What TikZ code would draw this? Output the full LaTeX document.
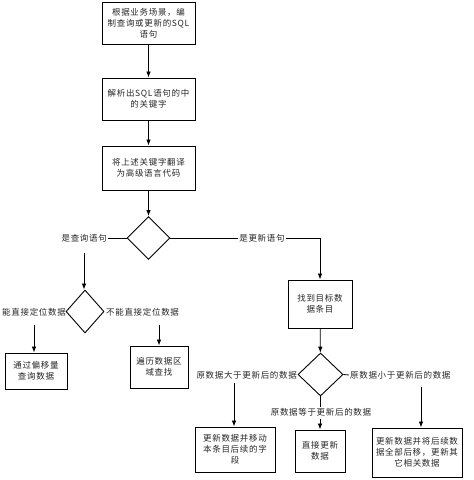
\documentclass[tikz,border=0pt]{standalone}
\usepackage{fontspec}
\newfontfamily\cjk[LetterSpace=8]{Noto Sans CJK SC}
\usetikzlibrary{shapes.geometric,arrows.meta}
\begin{document}
\begin{tikzpicture}[x=1pt,y=-1pt,
  every node/.style={font=\cjk\fontsize{8.5}{11}\selectfont, text=black!85},
  box/.style={draw=black, line width=0.9pt, rectangle, inner sep=1pt, align=center},
  dia/.style={draw=black, line width=0.9pt, diamond, inner sep=0pt},
  lab/.style={inner sep=1pt},
  conn/.style={line width=0.8pt},
  arr/.style={conn, -{Latex[length=6pt,width=4.5pt]}}]
\useasboundingbox (0,0) rectangle (474,480);
% boxes
\node[box, minimum width=93, minimum height=42] (b1) at (148.5,23) {根据业务场景，编\\制查询或更新的SQL\\语句};
\node[box, minimum width=93, minimum height=42] (b2) at (148.5,99) {解析出SQL语句的中\\的关键字};
\node[box, minimum width=93, minimum height=44] (b3) at (148.5,168) {将上述关键字翻译\\为高级语言代码};
\node[dia, minimum width=43, minimum height=43] (d1) at (148.5,238) {};
\node[box, minimum width=64, minimum height=48] (b4) at (320,304) {找到目标数\\据条目};
\node[dia, minimum width=38, minimum height=43] (d2) at (85,311.5) {};
\node[dia, minimum width=45, minimum height=43] (d3) at (320.5,374.5) {};
\node[box, minimum width=62, minimum height=36] (b5) at (36,371) {通过偏移量\\查询数据};
\node[box, minimum width=58, minimum height=42] (b6) at (159,367) {遍历数据区\\域查找};
\node[box, minimum width=80, minimum height=45] (b7) at (235,449.5) {更新数据并移动\\本条目后续的字\\段};
\node[box, minimum width=50, minimum height=42] (b8) at (320,451) {直接更新\\数据};
\node[box, minimum width=90, minimum height=49] (b9) at (417,452.5) {更新数据并将后续数\\据全部后移，更新其\\它相关数据};
% labels
\node[lab, anchor=east] (q1) at (108,238) {是查询语句};
\node[lab, anchor=east] (q2) at (67,312) {能直接定位数据};
\node[lab, anchor=west] (q3) at (105,312) {不能直接定位数据};
\node[lab, anchor=east] (g1) at (298,375) {原数据大于更新后的数据};
\node[lab, anchor=west] (l1) at (349,375) {原数据小于更新后的数据};
\node[lab] (e1) at (321,412) {原数据等于更新后的数据};
% free ends
\coordinate (q1s) at (84,253);
\coordinate (q2s) at (34,325);
\coordinate (q3s) at (159,325);
\coordinate (g1s) at (234,383);
\coordinate (l1s) at (421,387);
\coordinate (e1s) at (320,419);
% connectors
\draw[arr] (b1) -- (b2);
\draw[arr] (b2) -- (b3);
\draw[arr] (b3) -- (d1);
\draw[conn] (d1.west) -- (q1.east);
\draw[arr] (q1s) -- (q1s |- d2.north);
\draw[arr] (d1.east) -| (b4.north);
\draw[arr] (b4) -- (d3);
\draw[arr] (q2s) -- (q2s |- b5.north);
\draw[arr] (q3s) -- (q3s |- b6.north);
\draw[arr] (g1s) -- (g1s |- b7.north);
\draw[conn] (d3.east) -- (l1.west);
\draw[arr] (l1s) -- (l1s |- b9.north);
\draw[conn] (d3.south) -- (e1.north -| d3.south);
\draw[arr] (e1s) -- (e1s |- b8.north);
\node[lab, fill=white] (u1) at (262,238) {是更新语句};
\end{tikzpicture}
\end{document}
